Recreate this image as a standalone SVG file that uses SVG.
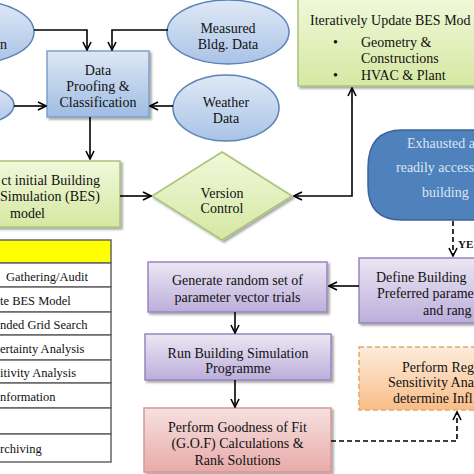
<svg xmlns="http://www.w3.org/2000/svg" width="474" height="474" viewBox="0 0 474 474">
<defs>
<linearGradient id="gBlue" x1="0" y1="0" x2="0" y2="1"><stop offset="0" stop-color="#dde8f5"/><stop offset="1" stop-color="#9fbce2"/></linearGradient>
<linearGradient id="gEll" x1="0" y1="0" x2="0" y2="1"><stop offset="0" stop-color="#dfe9f6"/><stop offset="1" stop-color="#a9c3e6"/></linearGradient>
<linearGradient id="gGreen" x1="0" y1="0" x2="0" y2="1"><stop offset="0" stop-color="#f1f8da"/><stop offset="1" stop-color="#d5e8a3"/></linearGradient>
<linearGradient id="gPurple" x1="0" y1="0" x2="0" y2="1"><stop offset="0" stop-color="#ece7f3"/><stop offset="1" stop-color="#bcaedb"/></linearGradient>
<linearGradient id="gPink" x1="0" y1="0" x2="0" y2="1"><stop offset="0" stop-color="#f6e1e0"/><stop offset="1" stop-color="#e8aaa8"/></linearGradient>
<linearGradient id="gOrange" x1="0" y1="0" x2="0" y2="1"><stop offset="0" stop-color="#fdecdc"/><stop offset="1" stop-color="#f9bd88"/></linearGradient>
<filter id="sh" x="-10%" y="-10%" width="130%" height="130%"><feDropShadow dx="2" dy="2" stdDeviation="1.2" flood-color="#000" flood-opacity="0.35"/></filter>
<marker id="ar" viewBox="0 0 10 10" refX="9" refY="5" markerWidth="10" markerHeight="10" markerUnits="userSpaceOnUse" orient="auto-start-reverse"><path d="M1,1 L9,5 L1,9" fill="none" stroke="#000" stroke-width="1.6"/></marker>
</defs>
<style>
text{font-family:"Liberation Serif","Times New Roman",serif;font-size:14px;fill:#111}
.c{text-anchor:middle}
.t{font-size:12.5px}
.w{fill:#dce6f2}
.ell{fill:url(#gEll);stroke:#5b83b8;stroke-width:1.5}
.blue{fill:url(#gBlue);stroke:#7da0cc;stroke-width:1.5}
.green{fill:url(#gGreen);stroke:#a9c47a;stroke-width:1.5}
.purple{fill:url(#gPurple);stroke:#9985c0;stroke-width:1.5}
.pink{fill:url(#gPink);stroke:#d99694;stroke-width:1.5}
.orange{fill:url(#gOrange);stroke:#e3a66b;stroke-width:1.5;stroke-dasharray:5 3}
.ln{fill:none;stroke:#000;stroke-width:1.6}
.dash{stroke-dasharray:5 3}
.tbl{fill:#fff;stroke:#666;stroke-width:1.5}
</style>

<g id="ellipse-topleft">
<ellipse class="ell" cx="-25" cy="32" rx="59" ry="31"/>
<text x="0" y="49">n</text>
</g>
<g id="ellipse-midleft">
<ellipse class="ell" cx="-40" cy="105" rx="54" ry="22"/>
</g>
<g id="measured">
<ellipse class="ell" cx="228" cy="32" rx="61" ry="32"/>
<text class="c" x="228" y="33">Measured</text>
<text class="c" x="228" y="49">Bldg. Data</text>
</g>
<g id="weather">
<ellipse class="ell" cx="226" cy="108" rx="53" ry="33"/>
<text class="c" x="226" y="107">Weather</text>
<text class="c" x="226" y="123">Data</text>
</g>
<g id="proofing">
<rect class="blue" x="47" y="51" width="102" height="66" filter="url(#sh)"/>
<text class="c" x="98" y="75">Data</text>
<text class="c" x="98" y="91">Proofing &amp;</text>
<text class="c" x="98" y="107">Classification</text>
</g>
<g id="construct">
<rect class="green" x="-70" y="161" width="190" height="66" filter="url(#sh)"/>
<text x="100" y="185" style="text-anchor:end">ct initial Building</text>
<text x="100" y="201" style="text-anchor:end">Simulation (BES)</text>
<text x="10" y="218">model</text>
</g>
<g id="version">
<polygon points="222,152 292,196 222,240 152,196" fill="url(#gGreen)" stroke="#a9c47a" stroke-width="1.5" filter="url(#sh)"/>
<text class="c" x="222" y="198">Version</text>
<text class="c" x="222" y="213">Control</text>
</g>
<g id="iterative">
<rect class="green" x="298" y="-4" width="190" height="90" filter="url(#sh)"/>
<text x="310" y="25">Iteratively Update BES Mod</text>
<text x="333" y="47">•</text>
<text x="361" y="47">Geometry &amp;</text>
<text x="361" y="63">Constructions</text>
<text x="333" y="80">•</text>
<text x="361" y="80">HVAC &amp; Plant</text>
</g>
<g id="exhausted">
<path d="M490,130 L402,130 Q368,130 368,168 L368,186 Q368,220 402,220 L490,220 Z" fill="#4f81bd" stroke="#3a639a" stroke-width="1.5"/>
<text class="w" x="407" y="148">Exhausted a</text>
<text class="w" x="396" y="172">readily access</text>
<text class="w" x="422" y="197">building</text>
</g>
<g id="table">
<rect x="-2" y="240" width="113" height="23" fill="#ffff00" stroke="#666" stroke-width="1.5"/>
<rect class="tbl" x="-2" y="263" width="113" height="24"/>
<rect class="tbl" x="-2" y="287" width="113" height="25"/>
<rect class="tbl" x="-2" y="312" width="113" height="23"/>
<rect class="tbl" x="-2" y="335" width="113" height="25"/>
<rect class="tbl" x="-2" y="360" width="113" height="23"/>
<rect class="tbl" x="-2" y="383" width="113" height="25"/>
<rect class="tbl" x="-2" y="408" width="113" height="26"/>
<rect class="tbl" x="-2" y="434" width="113" height="28"/>
<text class="t" x="6" y="281">Gathering/Audit</text>
<text class="t" x="0" y="305">te BES Model</text>
<text class="t" x="0" y="329">nded Grid Search</text>
<text class="t" x="0" y="353">ertainty Analysis</text>
<text class="t" x="0" y="377">itivity Analysis</text>
<text class="t" x="0" y="401">nformation</text>
<text class="t" x="0" y="453">rchiving</text>
</g>
<g id="define">
<rect class="purple" x="359" y="258" width="130" height="65" filter="url(#sh)"/>
<text x="376" y="282">Define Building</text>
<text x="377" y="298">Preferred parame</text>
<text x="423" y="315">and rang</text>
</g>
<g id="generate">
<rect class="purple" x="148" y="262" width="179" height="50" filter="url(#sh)"/>
<text class="c" x="237.5" y="285">Generate random set of</text>
<text class="c" x="237.5" y="302">parameter vector trials</text>
</g>
<g id="run">
<rect class="purple" x="145" y="334" width="186" height="46" filter="url(#sh)"/>
<text class="c" x="238" y="358">Run Building Simulation</text>
<text class="c" x="238" y="373">Programme</text>
</g>
<g id="gof">
<rect class="pink" x="144" y="408" width="187" height="64" filter="url(#sh)"/>
<text class="c" x="237.5" y="432">Perform Goodness of Fit</text>
<text class="c" x="237.5" y="448">(G.O.F) Calculations &amp;</text>
<text class="c" x="237.5" y="465">Rank Solutions</text>
</g>
<g id="regression">
<rect class="orange" x="359" y="347" width="130" height="63"/>
<text x="402" y="372">Perform Reg</text>
<text x="388" y="387">Sensitivity Ana</text>
<text x="393" y="403">determine Infl</text>
</g>

<g id="connectors">
<path class="ln" d="M34,30 H87 V50" marker-end="url(#ar)"/>
<path class="ln" d="M168,30 H112 V50" marker-end="url(#ar)"/>
<path class="ln" d="M14,106 H46" marker-end="url(#ar)"/>
<path class="ln" d="M173,106 H150" marker-end="url(#ar)"/>
<path class="ln" d="M90,117 V159" marker-end="url(#ar)"/>
<path class="ln" d="M120,196 H151" marker-end="url(#ar)"/>
<path class="ln" d="M352,88 V196 H294" marker-start="url(#ar)" marker-end="url(#ar)"/>
<path class="ln dash" d="M453,221 V256" marker-end="url(#ar)"/>
<text x="458" y="248" style="font-weight:bold;font-size:11px">YE</text>
<path class="ln" d="M359,286 H329" marker-end="url(#ar)"/>
<path class="ln" d="M235,312 V333" marker-end="url(#ar)"/>
<path class="ln" d="M235,380 V407" marker-end="url(#ar)"/>
<path class="ln dash" d="M331,441 H457 V412" marker-end="url(#ar)"/>
</g>
</svg>
